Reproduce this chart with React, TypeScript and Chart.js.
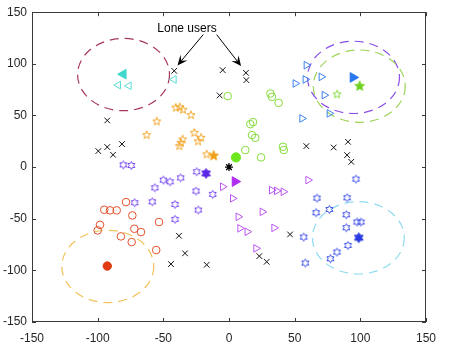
import React, { useEffect, useRef } from 'react';
import { Chart, registerables } from 'chart.js';
Chart.register(...registerables);

type P = [number, number];

const X_TICKS = [-150, -100, -50, 0, 50, 100, 150];
const Y_TICKS = [-150, -100, -50, 0, 50, 100, 150];

const loneUsers: P[] = [
  [-41.7, 93.2], [-4.8, 93.9], [-7.1, 69.4], [12.9, 91.3], [13.2, 84.2],
  [-92.7, 45.2], [-99.5, 15.5], [-92.7, 19.4], [-88.3, 11.9], [-81.5, 22.3],
  [58.9, 20.3], [79.7, 19], [90.6, 24.5], [89.9, 11.6], [93.1, 5.1],
  [-38.1, -66.5], [-33.5, -83.5], [-44.2, -93.9], [-17, -94.6],
  [46.5, -65.2], [23.1, -86.2], [28.7, -91.7],
];
const origin: P[] = [[0, 0]];

const cyanOpen: P[] = [[-84.3, 79.4], [-76.2, 78.7], [-41.9, 84.9]];
const cyanCenter: P[] = [[-80.5, 90]];

const orangeOpen: P[] = [
  [-40.5, 57.5], [-37.5, 58], [-35, 55.5], [-28.9, 50.3], [-55, 44.2], [-62.7, 31],
  [-26.4, 33.2], [-21.3, 28.4], [-23.6, 24.9], [-35.3, 26.8], [-36.6, 23.5],
  [-37.8, 20.3], [-17, 12.3],
];
const orangeCenter: P[] = [[-11.7, 11]];

const greenCircOpen: P[] = [
  [-1, 68.7], [31.5, 71.3], [32.7, 68], [37.8, 62.2], [16.2, 41.6], [18.3, 43.6],
  [17.5, 31], [20, 28.4], [12.4, 16.5], [24.4, 9.4], [41.1, 19.7], [41.7, 16.5],
];
const greenCircCenter: P[] = [[5.3, 9.4]];

const greenStarOpen: P[] = [[82.3, 70.4]];
const greenStarCenter: P[] = [[99.5, 78.4]];

const blueTriOpen: P[] = [
  [58.9, 98.7], [58.1, 84.9], [50.5, 81], [70.3, 87.4], [72.6, 69.7], [76.4, 52], [55.6, 47.1],
];
const blueTriCenter: P[] = [[94.4, 86.8]];

const magentaOpen: P[] = [
  [-4.8, -19], [2.8, -30.3], [32.5, -22.3], [36.3, -23], [41.4, -23.9], [25.4, -43.3],
  [7.1, -48.1], [8.4, -59.3], [13.9, -62.6], [34.3, -58.8], [20.6, -78.7], [60.2, -12.6],
];
const magentaCenter: P[] = [[4.6, -14]];

const purpleHexOpen: P[] = [
  [-80.5, 2.2], [-74.4, 1.6], [-24.6, -4.5], [-50, -12.6], [-44.9, -14.2], [-36.8, -10.4],
  [-56.4, -20], [-25.1, -23.2], [-12.4, -26.4], [-71.8, -34.5], [-58.4, -33.6],
  [-41.1, -36.1], [-23.4, -41.6], [-41.1, -50.6],
];
const purpleHexCenter: P[] = [[-17.5, -6.1]];

const blueHexOpen: P[] = [
  [67, -30], [66.3, -44.2], [76.4, -41], [89.9, -29.7], [89.3, -46.1], [89.3, -58.7],
  [97.5, -53.2], [100.5, -53.2], [90.6, -75.8], [82.2, -82.3], [77.2, -88.7],
  [56.9, -67.8], [58.1, -92.9], [96.7, -11.6],
];
const blueHexCenter: P[] = [[98.8, -68.4]];

const redOpen: P[] = [
  [-95, -41.3], [-90.6, -41.9], [-85.5, -41.9], [-78.4, -33.9], [-73.6, -46.8],
  [-98.2, -55.9], [-100, -61.3], [-82.3, -67.1], [-72.1, -59.7], [-67, -62.9],
  [-74.1, -72.6], [-53.3, -53.2], [-55.4, -80.3],
];
const redCenter: P[] = [[-92.7, -95.8]];

// dashed circles (data units): centers and radius
const circleCenters: P[] = [[-80.3, 89.6], [94.8, 86.9], [99.2, 78.4], [98.5, -68.5], [-92.3, -96.2]];
const circleRadii = [35, 35, 35, 35, 35];
const circleColors = ['#a8385a', '#8a4ee6', '#9ed35a', '#8fdcf0', '#f2c25a'];

// annotation
const labelText = 'Lone users';
const labelPos: P = [-32, 133.6];
const arrowStarts: P[] = [[-19.6, 128.3], [-9.4, 128.3]];
const arrowTips: P[] = [[-39.2, 98.5], [9.2, 97.8]];

function makeMarker(kind: 'star5' | 'hex', R: number, stroke: string, fill: string | null) {
  const size = Math.ceil(R * 2 + 3);
  const c = document.createElement('canvas');
  c.width = size;
  c.height = size;
  const ctx = c.getContext('2d')!;
  const cx = size / 2, cy = size / 2;
  ctx.beginPath();
  if (kind === 'star5') {
    const r = R * 0.42;
    for (let i = 0; i < 10; i++) {
      const a = -Math.PI / 2 + (i * Math.PI) / 5;
      const rr = i % 2 ? r : R;
      ctx.lineTo(cx + rr * Math.cos(a), cy + rr * Math.sin(a));
    }
  } else {
    const r = R / Math.sqrt(3);
    for (let i = 0; i < 12; i++) {
      const a = -Math.PI / 2 + (i * Math.PI) / 6;
      const rr = i % 2 ? r : R;
      ctx.lineTo(cx + rr * Math.cos(a), cy + rr * Math.sin(a));
    }
  }
  ctx.closePath();
  if (fill) {
    ctx.fillStyle = fill;
    ctx.fill();
  }
  ctx.strokeStyle = stroke;
  ctx.lineWidth = 1;
  ctx.stroke();
  return c;
}

const toXY = (a: P[]) => a.map(([x, y]) => ({ x, y }));

export default function App() {
  const ref = useRef<HTMLCanvasElement | null>(null);
  useEffect(() => {
    const canvas = ref.current!;
    const orangeC = '#f2a62a';
    const greenC = '#86dc3c';
    const blueT = '#3a80ee';
    const magC = '#bb55f2';
    const purC = '#7444f0';
    const bhexC = '#3a4ce6';
    const redC = '#e2522c';
    const cyanC = '#56dcd4';

    const ds = (data: P[], style: any, extra: any = {}) => ({
      data: toXY(data),
      pointStyle: style,
      showLine: false,
      borderWidth: 1,
      ...extra,
    });

    const ellipsePlugin = {
      id: 'ellipses',
      beforeDatasetsDraw(chart: any) {
        const { ctx, scales } = chart;
        const sx = scales.x, sy = scales.y;
        ctx.save();
        ctx.lineWidth = 1.2;
        ctx.setLineDash([9, 6]);
        circleCenters.forEach(([cx, cy], i) => {
          const r = circleRadii[i];
          const px = sx.getPixelForValue(cx);
          const py = sy.getPixelForValue(cy);
          const rx = Math.abs(sx.getPixelForValue(cx + r) - px);
          const ry = Math.abs(sy.getPixelForValue(cy + r) - py);
          ctx.strokeStyle = circleColors[i];
          ctx.beginPath();
          ctx.ellipse(px, py, rx, ry, 0, 0, Math.PI * 2);
          ctx.stroke();
        });
        ctx.restore();
      },
      afterDatasetsDraw(chart: any) {
        const { ctx, scales, chartArea: a } = chart;
        const sx = scales.x, sy = scales.y;
        ctx.save();
        // frame
        ctx.strokeStyle = '#3a3a3a';
        ctx.lineWidth = 1;
        ctx.setLineDash([]);
        ctx.strokeRect(Math.round(a.left) + 0.5, Math.round(a.top) + 0.5,
          Math.round(a.right - a.left) - 1, Math.round(a.bottom - a.top) - 1);
        const tl = 4;
        ctx.beginPath();
        X_TICKS.forEach((v) => {
          const x = Math.round(sx.getPixelForValue(v)) + 0.5;
          ctx.moveTo(x, a.bottom); ctx.lineTo(x, a.bottom - tl);
          ctx.moveTo(x, a.top); ctx.lineTo(x, a.top + tl);
        });
        Y_TICKS.forEach((v) => {
          const y = Math.round(sy.getPixelForValue(v)) + 0.5;
          ctx.moveTo(a.left, y); ctx.lineTo(a.left + tl, y);
          ctx.moveTo(a.right, y); ctx.lineTo(a.right - tl, y);
        });
        ctx.stroke();
        // annotation
        ctx.fillStyle = '#000';
        ctx.font = '12px "Liberation Sans", Arial, sans-serif';
        ctx.textAlign = 'center';
        ctx.textBaseline = 'middle';
        ctx.fillText(labelText, sx.getPixelForValue(labelPos[0]), sy.getPixelForValue(labelPos[1]));
        arrowStarts.forEach((s, i) => {
          const x0 = sx.getPixelForValue(s[0]), y0 = sy.getPixelForValue(s[1]);
          const x1 = sx.getPixelForValue(arrowTips[i][0]), y1 = sy.getPixelForValue(arrowTips[i][1]);
          const ang = Math.atan2(y1 - y0, x1 - x0);
          const L = 10, W = 4.5, N = 6;
          ctx.strokeStyle = '#000';
          ctx.lineWidth = 1;
          ctx.beginPath();
          ctx.moveTo(x0, y0);
          ctx.lineTo(x1 - Math.cos(ang) * N, y1 - Math.sin(ang) * N);
          ctx.stroke();
          const bx = x1 - Math.cos(ang) * L, by = y1 - Math.sin(ang) * L;
          const nx = -Math.sin(ang), ny = Math.cos(ang);
          ctx.beginPath();
          ctx.moveTo(x1, y1);
          ctx.lineTo(bx + nx * W, by + ny * W);
          ctx.lineTo(x1 - Math.cos(ang) * N, y1 - Math.sin(ang) * N);
          ctx.lineTo(bx - nx * W, by - ny * W);
          ctx.closePath();
          ctx.fill();
        });
        ctx.restore();
      },
    };

    const font = { family: '"Liberation Sans", Arial, sans-serif', size: 12 };

    const chart = new Chart(canvas, {
      type: 'scatter',
      data: {
        datasets: [
          ds(redOpen, 'circle', { pointRadius: 3.8, borderColor: redC, backgroundColor: 'transparent' }),
          ds(redCenter, 'circle', { pointRadius: 4.2, borderColor: '#e03a12', backgroundColor: '#e03a12' }),
          ds(purpleHexOpen, makeMarker('hex', 4, purC, null)),
          ds(purpleHexCenter, makeMarker('hex', 5, '#5a28e6', '#5a28e6')),
          ds(blueHexOpen, makeMarker('hex', 4, bhexC, null)),
          ds(blueHexCenter, makeMarker('hex', 5, '#2a3ae0', '#2a3ae0')),
          ds(magentaOpen, 'triangle', { pointRadius: 4.4, rotation: 90, borderColor: magC, backgroundColor: 'transparent' }),
          ds(magentaCenter, 'triangle', { pointRadius: 5.6, rotation: 90, borderColor: '#b02cf0', backgroundColor: '#b02cf0' }),
          ds(orangeOpen, makeMarker('star5', 4.3, orangeC, null)),
          ds(orangeCenter, makeMarker('star5', 5.2, '#f0a018', '#f0a018')),
          ds(greenCircOpen, 'circle', { pointRadius: 3.8, borderColor: greenC, backgroundColor: 'transparent' }),
          ds(greenCircCenter, 'circle', { pointRadius: 4.6, borderColor: '#6ee81e', backgroundColor: '#6ee81e' }),
          ds(greenStarOpen, makeMarker('star5', 4.3, greenC, null)),
          ds(greenStarCenter, makeMarker('star5', 5.2, '#6cd21e', '#6cd21e')),
          ds(blueTriOpen, 'triangle', { pointRadius: 4.4, rotation: 90, borderColor: blueT, backgroundColor: 'transparent' }),
          ds(blueTriCenter, 'triangle', { pointRadius: 5.6, rotation: 90, borderColor: '#2a78ee', backgroundColor: '#2a78ee' }),
          ds(cyanOpen, 'triangle', { pointRadius: 4.4, rotation: -90, borderColor: cyanC, backgroundColor: 'transparent' }),
          ds(cyanCenter, 'triangle', { pointRadius: 5.6, rotation: -90, borderColor: '#40d8cc', backgroundColor: '#40d8cc' }),
          ds(loneUsers, 'crossRot', { pointRadius: 4, borderColor: '#111', backgroundColor: '#111' }),
          ds(origin, 'star', { pointRadius: 4, borderColor: '#000', backgroundColor: '#000', borderWidth: 1.3 }),
        ] as any,
      },
      options: {
        animation: false,
        responsive: false,
        events: [],
        layout: { padding: { left: 0, right: 48, top: 12, bottom: 0 } },
        plugins: { legend: { display: false }, tooltip: { enabled: false } },
        scales: {
          x: {
            type: 'linear',
            min: -150,
            max: 150,
            afterBuildTicks: (s: any) => { s.ticks = X_TICKS.map((v) => ({ value: v })); },
            afterFit: (s: any) => { s.height = 42; },
            grid: { display: false, drawTicks: false },
            border: { display: false },
            ticks: { color: '#262626', font, padding: 9, maxRotation: 0, autoSkip: false },
          },
          y: {
            type: 'linear',
            min: -150,
            max: 150,
            afterBuildTicks: (s: any) => { s.ticks = Y_TICKS.map((v) => ({ value: v })); },
            afterFit: (s: any) => { s.width = 32; },
            grid: { display: false, drawTicks: false },
            border: { display: false },
            ticks: { color: '#262626', font, padding: 5, autoSkip: false },
          },
        },
      } as any,
      plugins: [ellipsePlugin],
    });
    return () => chart.destroy();
  }, []);

  return (
    <div style={{ position: 'fixed', left: 0, top: 0, width: 474, height: 364, background: '#fff' }}>
      <canvas ref={ref} width={474} height={364} />
    </div>
  );
}
